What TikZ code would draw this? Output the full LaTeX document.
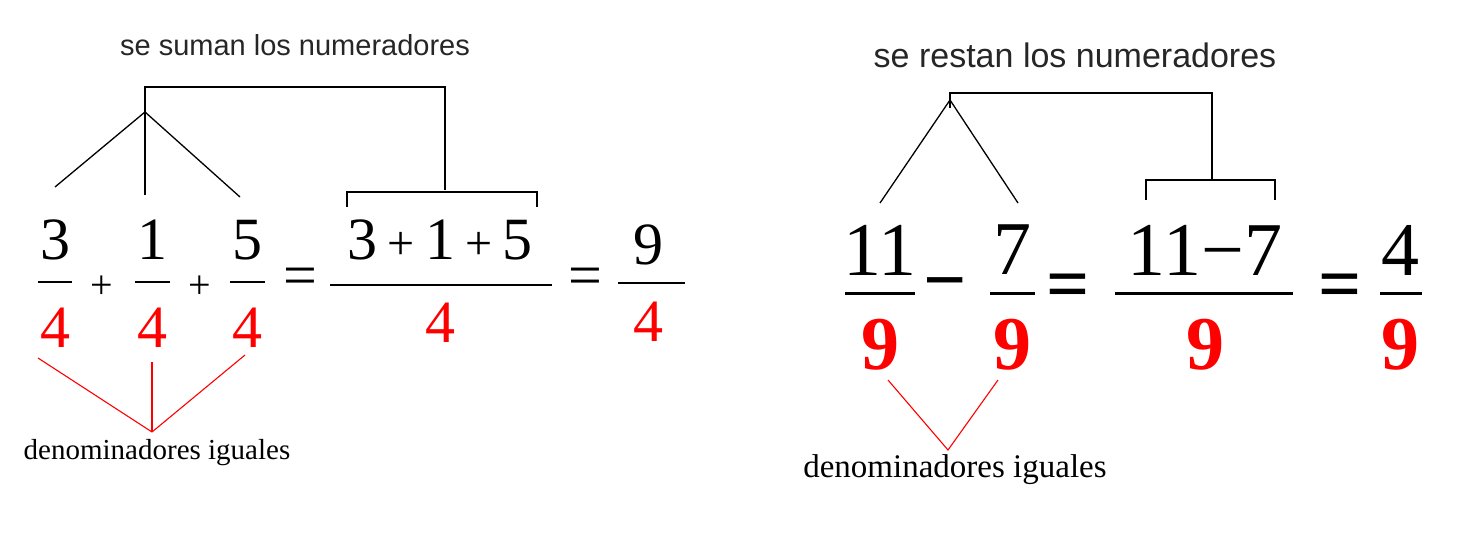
\documentclass[tikz,border=0pt]{standalone}
\usepackage{fontspec}
\setmainfont{Liberation Serif}
\setsansfont{Liberation Sans}
\begin{document}
\begin{tikzpicture}[x=1pt,y=-1pt,
  ln/.style={draw=black,line width=1.3pt},
  rl/.style={draw=red,line width=1.1pt},
  numL/.style={font=\fontsize{60}{60}\selectfont,inner sep=0pt},
  opL/.style={font=\fontsize{40}{40}\selectfont,inner sep=0pt},
  numR/.style={font=\fontsize{76}{76}\selectfont,inner sep=0pt},
  opR/.style={font=\fontsize{76}{76}\selectfont\bfseries,inner sep=0pt},
  denL/.style={numL,text=red},
  denR/.style={numR,font=\fontsize{76}{76}\selectfont\bfseries,text=red},
  lab/.style={font=\sffamily\fontsize{29}{29}\selectfont,text=black!85},
  labs/.style={font=\fontsize{29}{29}\selectfont}]
\useasboundingbox (0,0) rectangle (1482,538);
% left
\node[lab] (tl) at (295,45) {se suman los numeradores};
\draw[ln] (145,112) -- (145,87) -- (445,87) -- (445,190);
\coordinate (jl) at (145,112);
\draw[ln] (jl) -- (55,187); \draw[ln] (jl) -- (145,195); \draw[ln] (jl) -- (240,197);
\draw[ln] (347,207) -- (347,192) -- (537,192) -- (537,207);
\node[numL] (a1) at (55,240) {3};  \draw[ln] (38,282) -- (72,282); \node[denL] (d1) at (55,328) {4};
\node[opL] (p1) at (102,287) {+};
\node[numL] (a2) at (152,240) {1}; \draw[ln] (135,282) -- (170,282); \node[denL] (d2) at (152,328) {4};
\node[opL] (p2) at (200,287) {+};
\node[numL] (a3) at (247,240) {5}; \draw[ln] (230,282) -- (265,282); \node[denL] (d3) at (247,328) {4};
\node[numL] (e1) at (300,282) {=};
\node[numL] (a4) at (440,240) {3\,{\fontsize{48}{48}\selectfont+}\,1\,{\fontsize{48}{48}\selectfont+}\,5}; \draw[ln] (330,285) -- (552,285); \node[denL] (d4) at (440,323) {4};
\node[numL] (e2) at (585,282) {=};
\node[numL] (a5) at (648,245) {9}; \draw[ln] (618,283) -- (685,283); \node[denL] (d5) at (648,322) {4};
\coordinate (rl1) at (152,432);
\draw[rl] (rl1) -- (38,358); \draw[rl] (rl1) -- (152,362); \draw[rl] (rl1) -- (245,355);
\node[labs] (bl) at (157,453) {denominadores iguales};
% right
\node[lab,font=\sffamily\fontsize{34}{34}\selectfont] (tr) at (1075,55) {se restan los numeradores};
\draw[ln] (950,108) -- (950,93) -- (1212,93) -- (1212,180);
\coordinate (jr) at (950,100);
\draw[ln] (jr) -- (880,203); \draw[ln] (jr) -- (1018,203);
\draw[ln] (1146,200) -- (1146,180) -- (1275,180) -- (1275,200);
\node[numR] (b1) at (880,250) {11}; \draw[ln,line width=3pt] (845,293) -- (915,293); \node[denR] (e1r) at (880,345) {9};
\node[opR] (m1) at (945,292) {\textminus};
\node[numR] (b2) at (1012,250) {7}; \draw[ln,line width=3pt] (990,293) -- (1035,293); \node[denR] (e2r) at (1012,345) {9};
\node[opR] (q1) at (1068,292) {=};
\node[numR] (b3) at (1205,250) {11\textminus7}; \draw[ln,line width=3pt] (1115,293) -- (1293,293); \node[denR] (e3r) at (1205,345) {9};
\node[opR] (q2) at (1340,292) {=};
\node[numR] (b4) at (1400,250) {4}; \draw[ln,line width=3pt] (1380,293) -- (1422,293); \node[denR] (e4r) at (1400,345) {9};
\coordinate (rr) at (948,450);
\draw[rl] (888,380) -- (rr) -- (998,380);
\node[labs,font=\fontsize{33}{33}\selectfont] (br) at (955,470) {denominadores iguales};
\end{tikzpicture}
\end{document}
